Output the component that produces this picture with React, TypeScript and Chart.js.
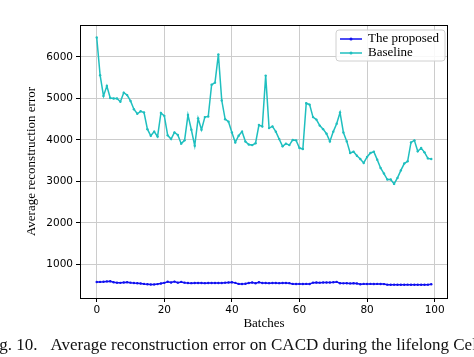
import React, { useEffect, useRef } from "react";
import { Chart, registerables } from "chart.js";

Chart.register(...registerables);

const batches: number[] = Array.from({ length: 100 }, (_, i) => i);

const baseline: number[] = [
  6470, 5560, 5060, 5300, 5010, 5000, 5000, 4920, 5140, 5080,
  4940, 4740, 4630, 4690, 4660, 4260, 4100, 4200, 4080, 4650,
  4580, 4110, 4020, 4180, 4120, 3910, 3990, 4600, 4245, 3860,
  4520, 4245, 4550, 4565, 5330, 5380, 6060, 4950, 4500, 4440,
  4180, 3940, 4100, 4200, 3960, 3890, 3875, 3920, 4360, 4325,
  5550, 4285, 4325, 4200, 4020, 3845, 3910, 3875, 4000, 3990,
  3805, 3780, 4885, 4850, 4550, 4490, 4345, 4260, 4150, 3965,
  4200, 4390, 4660, 4180, 3965, 3685, 3715, 3620, 3540, 3445,
  3590, 3685, 3715, 3525, 3325, 3190, 3045, 3045, 2940, 3085,
  3265, 3430, 3485, 3940, 3990, 3725, 3805, 3700, 3555, 3540,
];

const proposed: number[] = [
  575, 578, 582, 590, 592, 570, 560, 555, 565, 572,
  560, 550, 545, 540, 530, 522, 515, 518, 525, 540,
  555, 580, 565, 585, 560, 578, 560, 552, 548, 550,
  552, 550, 548, 552, 550, 553, 550, 552, 560, 565,
  570, 555, 530, 528, 535, 550, 565, 545, 570, 552,
  550, 548, 552, 550, 548, 550, 552, 548, 530, 528,
  530, 527, 530, 528, 560, 562, 560, 565, 562, 565,
  570, 578, 545, 543, 545, 542, 545, 540, 520, 530,
  528, 530, 527, 530, 528, 525, 512, 510, 512, 510,
  511, 510, 512, 510, 508, 510, 511, 510, 512, 520,
];

const xTicks: number[] = [0, 20, 40, 60, 80, 100];
const yTicks: number[] = [1000, 2000, 3000, 4000, 5000, 6000];
const seriesNames: string[] = ["The proposed", "Baseline"];
const seriesColors: string[] = ["#1010f0", "#1fbfbf"];

const framePlugin = {
  id: "frameAndLegend",
  afterDraw(chart: any) {
    const { ctx, chartArea } = chart;
    const { left, top, right, bottom } = chartArea;
    ctx.save();
    ctx.strokeStyle = "#000";
    ctx.lineWidth = 1;
    ctx.strokeRect(Math.round(left) + 0.5, Math.round(top) + 0.5, Math.round(right - left) - 1, Math.round(bottom - top));

    // legend
    const bx = right - 112, by = top + 5, bw = 109, bh = 31;
    ctx.fillStyle = "rgba(255,255,255,0.85)";
    ctx.strokeStyle = "#d0d0d0";
    ctx.lineWidth = 1;
    ctx.beginPath();
    const r = 3;
    ctx.moveTo(bx + r, by);
    ctx.arcTo(bx + bw, by, bx + bw, by + bh, r);
    ctx.arcTo(bx + bw, by + bh, bx, by + bh, r);
    ctx.arcTo(bx, by + bh, bx, by, r);
    ctx.arcTo(bx, by, bx + bw, by, r);
    ctx.closePath();
    ctx.fill();
    ctx.stroke();

    ctx.font = "13px 'Liberation Serif', 'Times New Roman', serif";
    ctx.textBaseline = "middle";
    seriesNames.forEach((name, i) => {
      const cy = by + 9 + i * 14;
      ctx.strokeStyle = seriesColors[i];
      ctx.lineWidth = 1.5;
      ctx.beginPath();
      ctx.moveTo(bx + 4, cy);
      ctx.lineTo(bx + 26, cy);
      ctx.stroke();
      ctx.fillStyle = seriesColors[i];
      ctx.beginPath();
      ctx.arc(bx + 15, cy, 1.5, 0, Math.PI * 2);
      ctx.fill();
      ctx.fillStyle = "#000";
      ctx.fillText(name, bx + 32, cy);
    });
    ctx.restore();
  },
};

export default function App() {
  const ref = useRef<HTMLCanvasElement | null>(null);

  useEffect(() => {
    if (!ref.current) return;
    const tickFont = { family: "'DejaVu Sans', sans-serif", size: 10.5 };
    const titleFont = { family: "'Liberation Serif', 'Times New Roman', serif", size: 13 };
    const chart = new Chart(ref.current, {
      type: "line",
      data: {
        labels: batches,
        datasets: [
          {
            label: seriesNames[0],
            data: batches.map((b, i) => ({ x: b, y: proposed[i] })),
            borderColor: seriesColors[0],
            backgroundColor: seriesColors[0],
            borderWidth: 1.5,
            pointRadius: 1.2,
            pointBorderWidth: 0,
            tension: 0,
          },
          {
            label: seriesNames[1],
            data: batches.map((b, i) => ({ x: b, y: baseline[i] })),
            borderColor: seriesColors[1],
            backgroundColor: seriesColors[1],
            borderWidth: 1.5,
            pointRadius: 1.2,
            pointBorderWidth: 0,
            tension: 0,
          },
        ],
      },
      options: {
        responsive: false,
        animation: false,
        layout: { padding: { left: 0, top: 25, right: 26, bottom: 0 } },
        plugins: { legend: { display: false }, tooltip: { enabled: false } },
        scales: {
          x: {
            type: "linear",
            min: -4.95,
            max: 103.95,
            offset: false,
            afterBuildTicks: (s: any) => { s.ticks = xTicks.map((v) => ({ value: v })); },
            afterFit: (s: any) => { s.height = 59; },
            ticks: { font: tickFont, color: "#000", padding: 2, maxRotation: 0, callback: (v: any) => String(v) },
            grid: { color: "#cccccc", lineWidth: 1, tickColor: "#000", tickLength: 4 },
            border: { display: false },
            title: { display: true, text: "Batches", font: titleFont, color: "#000", padding: { top: 0, bottom: 26 } },
          },
          y: {
            type: "linear",
            min: 190,
            max: 6770,
            afterBuildTicks: (s: any) => { s.ticks = yTicks.map((v) => ({ value: v })); },
            afterFit: (s: any) => { s.width = 80; },
            ticks: { font: tickFont, color: "#000", padding: 3, callback: (v: any) => String(v) },
            grid: { color: "#cccccc", lineWidth: 1, tickColor: "#000", tickLength: 4 },
            border: { display: false },
            title: { display: true, text: "Average reconstruction error", font: titleFont, color: "#000", padding: { top: 24, bottom: 0 } },
          },
        },
      },
      plugins: [framePlugin],
    } as any);
    return () => chart.destroy();
  }, []);

  return (
    <div style={{ position: "fixed", left: 0, top: 0, width: 474, height: 357, overflow: "hidden", background: "#fff" }}>
      <canvas ref={ref} width={474} height={357} style={{ position: "absolute", left: 0, top: 0 }} />
      <div
        style={{
          position: "absolute",
          left: -15,
          top: 335,
          whiteSpace: "nowrap",
          fontFamily: "'Liberation Serif', 'Times New Roman', serif",
          fontSize: 17,
          color: "#111",
          lineHeight: "20px",
        }}
      >
        <span>Fig. 10.</span>
        <span style={{ marginLeft: 13 }}>Average reconstruction error on CACD during the lifelong CelebA to CACD learning.</span>
      </div>
    </div>
  );
}
